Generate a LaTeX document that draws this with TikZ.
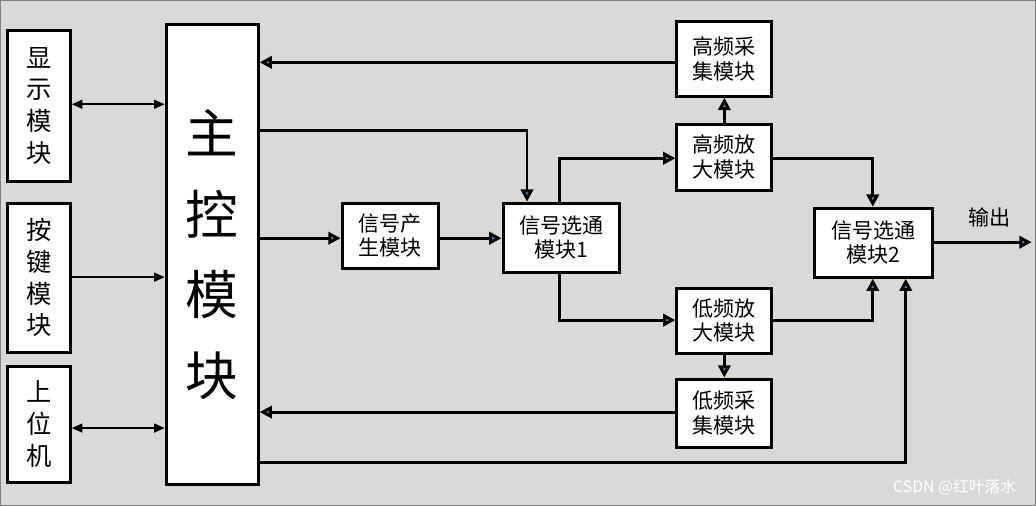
\documentclass[tikz,border=0pt]{standalone}
\usepackage{fontspec}
\setmainfont{Noto Sans CJK SC}
\usetikzlibrary{arrows.meta}
\definecolor{bgray}{HTML}{D9D9D9}
\definecolor{tipblue}{HTML}{5B9BD5}
\tikzset{
  blk/.style={draw,fill=white,line width=1.7pt,inner sep=0pt,align=center,font=\large},
  con/.style={line width=1.7pt,-{Triangle[length=7pt,width=7pt,fill=tipblue]}},
  bicon/.style={line width=1.1pt,{Triangle[length=6pt,width=5pt]}-{Triangle[length=6pt,width=5pt]}}
}
\begin{document}
\begin{tikzpicture}[x=0.02cm,y=-0.02cm]
\draw[fill=bgray,draw=gray] (0,0) rectangle (1036,505);
% left column
\node[blk,font=\Large,minimum width=1.26cm,minimum height=3.02cm] (disp) at (38.5,105.5) {显\\示\\模\\块};
\node[blk,font=\Large,minimum width=1.26cm,minimum height=2.98cm] (key) at (38.5,277.5) {按\\键\\模\\块};
\node[blk,font=\Large,minimum width=1.26cm,minimum height=2.32cm] (pc) at (38.5,424) {上\\位\\机};
\node[blk,minimum width=1.84cm,minimum height=9.22cm,font=\fontsize{30}{46}\selectfont] (mcu) at (212,254.5) {主\\控\\模\\块};
% middle
\node[blk,minimum width=1.92cm,minimum height=1.3cm] (gen) at (390,235.5) {信号产\\生模块};
\node[blk,minimum width=2.34cm,minimum height=1.38cm] (sw1) at (561.5,237.5) {信号选通\\模块1};
\node[blk,minimum width=1.9cm,minimum height=1.5cm] (hsmp) at (724.5,58.5) {高频采\\集模块};
\node[blk,minimum width=1.9cm,minimum height=1.32cm] (hamp) at (724.5,157) {高频放\\大模块};
\node[blk,minimum width=1.9cm,minimum height=1.3cm] (lamp) at (724.5,320.5) {低频放\\大模块};
\node[blk,minimum width=1.9cm,minimum height=1.36cm] (lsmp) at (724.5,413) {低频采\\集模块};
\node[blk,minimum width=2.36cm,minimum height=1.38cm] (sw2) at (874,242.5) {信号选通\\模块2};
\coordinate (out) at (1032,242);
\node[font=\large] (outlbl) at (990,217) {输出};
\node[text=white,font=\small] (mark) at (955,487) {CSDN @红叶落水};
% connectors
\draw[bicon] (disp.east|-0,104) -- (mcu.west|-0,104);
\draw[line width=1.1pt,-{Triangle[length=6pt,width=5pt]}] (key.east|-0,277) -- (mcu.west|-0,277);
\draw[bicon] (pc.east|-0,428) -- (mcu.west|-0,428);
\draw[con] (hsmp.west|-0,62) -- (mcu.east|-0,62);
\draw[con] (mcu.east|-0,130) -| (sw1.north-|527,0);
\draw[con] (mcu.east|-0,238) -- (gen.west|-0,238);
\draw[con] (gen.east|-0,238) -- (sw1.west|-0,238);
\draw[con] (sw1.north-|560,0) |- (hamp.west|-0,158);
\draw[con] (sw1.south-|560,0) |- (lamp.west|-0,320);
\draw[con] (hamp.north) -- (hsmp.south);
\draw[con] (lamp.south) -- (lsmp.north);
\draw[con] (hamp.east|-0,158) -| (sw2.north-|873,0);
\draw[con] (lamp.east|-0,320) -| (sw2.south-|873,0);
\draw[con] (lsmp.west|-0,412) -- (mcu.east|-0,412);
\draw[con] (mcu.east|-0,462) -| (sw2.south-|906,0);
\draw[con] (sw2.east|-0,242) -- (out);
\end{tikzpicture}
\end{document}
